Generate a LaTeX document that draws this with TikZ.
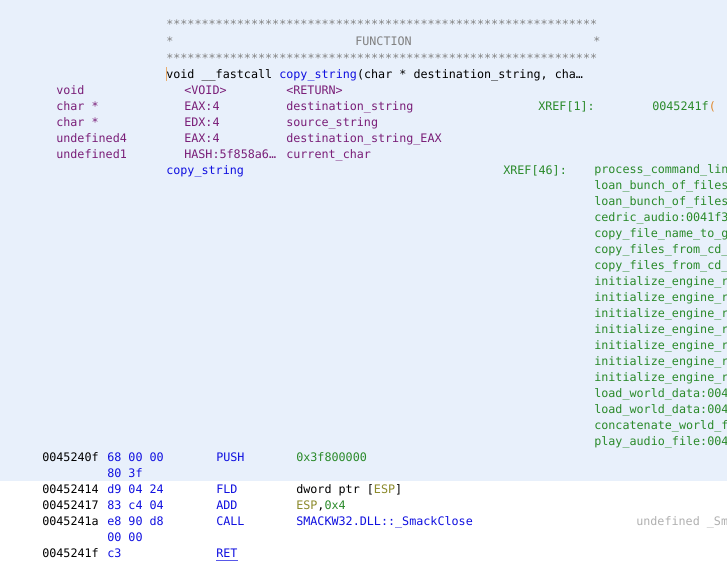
\documentclass[tikz,border=0pt]{standalone}
\usepackage{fontspec}
\setmonofont{DejaVu Sans Mono}
\definecolor{bgblue}{HTML}{E8F0FB}
\definecolor{purp}{HTML}{7A1E78}
\definecolor{blu}{HTML}{1010E0}
\definecolor{grn}{HTML}{2A8A2A}
\definecolor{olv}{HTML}{8C8A2A}
\definecolor{gry}{HTML}{B0B0B0}
\definecolor{org}{HTML}{E08A30}
\begin{document}
\begin{tikzpicture}[x=0.75pt,y=-0.75pt,
  tx/.style={anchor=base west,inner sep=0pt,font=\ttfamily\fontsize{8.8pt}{10pt}\selectfont},
  tk/.style={tx,text=black}, tp/.style={tx,text=purp}, tb/.style={tx,text=blu},
  tg/.style={tx,text=grn}, to/.style={tx,text=olv}, ty/.style={tx,text=gry}, tgr/.style={tx,text=gray}]
\useasboundingbox (0,0) rectangle (727,575);
\clip (0,0) rectangle (727,575);
\fill[white] (0,0) rectangle (727,575);
\fill[bgblue] (0,0) rectangle (727,481);
\draw[org!70,line width=0.8pt] (166.5,67) -- (166.5,81);
\node[tgr] (s1) at (166,28) {*************************************************************};
\node[tgr] (s2) at (166,45) {*};
\node[tgr] (s3) at (355,45) {FUNCTION};
\node[tgr] (s4) at (593,45) {*};
\node[tgr] (s5) at (166,62) {*************************************************************};
\node[tk] (sig) at (166,78) {void \_\_fastcall \textcolor{blu}{copy\_string}(char * destination\_string, cha…};
\node[tp] (a1) at (56,94) {void};
\node[tp] (a2) at (56,110) {char *};
\node[tp] (a3) at (56,126) {char *};
\node[tp] (a4) at (56,142) {undefined4};
\node[tp] (a5) at (56,158) {undefined1};
\node[tp] (b1) at (184,94) {<VOID>};
\node[tp] (b2) at (184,110) {EAX:4};
\node[tp] (b3) at (184,126) {EDX:4};
\node[tp] (b4) at (184,142) {EAX:4};
\node[tp] (b5) at (184,158) {HASH:5f858a6…};
\node[tp] (c1) at (286,94) {<RETURN>};
\node[tp] (c2) at (286,110) {destination\_string};
\node[tp] (c3) at (286,126) {source\_string};
\node[tp] (c4) at (286,142) {destination\_string\_EAX};
\node[tp] (c5) at (286,158) {current\_char};
\node[tg] (x1) at (538,110) {XREF[1]:};
\node[tg] (x1v) at (652,110) {0045241f\textcolor{org}{(}};
\node[tb] (lbl) at (166,174) {copy\_string};
\node[tg] (x46) at (503,174) {XREF[46]:};
\foreach \s [count=\i from 0] in {process\_command\_lin,loan\_bunch\_of\_files,loan\_bunch\_of\_files,cedric\_audio:0041f3,copy\_file\_name\_to\_g,copy\_files\_from\_cd\_,copy\_files\_from\_cd\_,initialize\_engine\_r,initialize\_engine\_r,initialize\_engine\_r,initialize\_engine\_r,initialize\_engine\_r,initialize\_engine\_r,initialize\_engine\_r,load\_world\_data:004,load\_world\_data:004,concatenate\_world\_f,play\_audio\_file:004}
  \node[tg] (r\i) at (594,173+16*\i) {\s};
\node[tk] (ad1) at (42,461) {0045240f};
\node[tb] (by1) at (107,461) {68 00 00};
\node[tb] (by1b) at (107,477) {80 3f};
\node[tb] (m1) at (216,461) {PUSH};
\node[tg] (o1) at (296,461) {0x3f800000};
\node[tk] (ad2) at (42,493) {00452414};
\node[tb] (by2) at (107,493) {d9 04 24};
\node[tb] (m2) at (216,493) {FLD};
\node[tk] (o2) at (296,493) {dword ptr [\textcolor{olv}{ESP}]};
\node[tk] (ad3) at (42,509) {00452417};
\node[tb] (by3) at (107,509) {83 c4 04};
\node[tb] (m3) at (216,509) {ADD};
\node[to] (o3) at (296,509) {ESP\textcolor{black}{,}\textcolor{grn}{0x4}};
\node[tk] (ad4) at (42,525) {0045241a};
\node[tb] (by4) at (107,525) {e8 90 d8};
\node[tb] (by4b) at (107,541) {00 00};
\node[tb] (m4) at (216,525) {CALL};
\node[tb] (o4) at (296,525) {SMACKW32.DLL::\_SmackClose};
\node[ty] (cm) at (636,525) {undefined \_Sm};
\node[tk] (ad5) at (42,557) {0045241f};
\node[tb] (by5) at (107,557) {c3};
\node[tb] (m5) at (216,557) {RET};
\draw[blu!70,line width=0.6pt] ([yshift=-2.5pt]m5.base west) -- ([yshift=-2.5pt]m5.base east);
\end{tikzpicture}
\end{document}
